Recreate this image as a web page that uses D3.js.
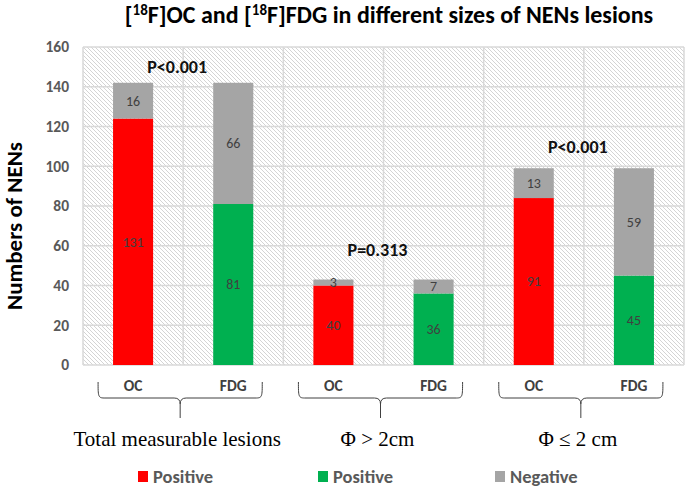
<!DOCTYPE html>
<html>
<head>
<meta charset="utf-8">
<script src="https://cdn.jsdelivr.net/npm/d3@7/dist/d3.min.js"></script>
<style>
  body { margin: 0; background: #fff; }
  svg { display: block; }
</style>
</head>
<body>
<div id="chart"></div>
<script>
// categories
const groups = ["Total measurable lesions", "\u03A6 > 2cm", "\u03A6 \u2264 2 cm"];
const tracers = ["OC", "FDG"];
// bar heights as drawn
const positive = [124, 81, 40, 36, 84, 45];
const negative = [18, 61, 3, 7, 15, 54];
// numbers printed in the bars
const positiveLabels = ["131", "81", "40", "36", "91", "45"];
const negativeLabels = ["16", "66", "3", "7", "13", "59"];
// p values per group, and the height they sit at (data units)
const pLabels = ["P<0.001", "P=0.313", "P<0.001"];
const pLevel = [150, 58, 110];
const yTicks = [0, 20, 40, 60, 80, 100, 120, 140, 160];
const legendLabels = ["Positive", "Positive", "Negative"];

const W = 685, H = 487;
const margin = { top: 47, right: 1, bottom: 122, left: 83 };
const red = "#FF0000", green = "#00B050", grey = "#A5A5A5";
const sans = "Carlito, Calibri, 'Open Sans', sans-serif";

const svg = d3.select("#chart").append("svg")
  .attr("width", W).attr("height", H)
  .style("font-family", sans);

// hatched plot background
const pat = svg.append("defs").append("pattern")
  .attr("id", "hatch")
  .attr("patternUnits", "userSpaceOnUse")
  .attr("width", 4).attr("height", 4);
pat.append("rect").attr("width", 4).attr("height", 4).attr("fill", "#fff");
pat.append("path")
  .attr("d", "M-1,-1 L5,5 M-1,3 L1,5 M3,-1 L5,1")
  .attr("stroke", "#d4d4d4").attr("stroke-width", 1);

const bars = d3.range(positive.length);
const x = d3.scaleBand().domain(bars)
  .range([margin.left, W - margin.right])
  .paddingInner(0.6).paddingOuter(0.3);
const y = d3.scaleLinear().domain([0, 160]).range([H - margin.bottom, margin.top]);

const x0 = x.range()[0], step = x.step();

svg.append("rect")
  .attr("x", x0).attr("y", y(160))
  .attr("width", step * bars.length).attr("height", y(0) - y(160))
  .attr("fill", "url(#hatch)");

// gridlines
svg.append("g").selectAll("line").data(yTicks).join("line")
  .attr("x1", x0).attr("x2", x0 + step * bars.length)
  .attr("y1", d => y(d)).attr("y2", d => y(d))
  .attr("stroke", "#d9d9d9").attr("stroke-width", 1.5);
svg.append("g").selectAll("line").data(d3.range(bars.length + 1)).join("line")
  .attr("x1", i => x0 + i * step).attr("x2", i => x0 + i * step)
  .attr("y1", y(0)).attr("y2", y(160))
  .attr("stroke", "#d9d9d9").attr("stroke-width", 1.5);

// y axis labels
const yAxis = svg.append("g")
  .attr("transform", "translate(" + (margin.left - 14) + ",0)")
  .call(d3.axisLeft(y).tickValues(yTicks).tickSize(0).tickPadding(0));
yAxis.select(".domain").remove();
yAxis.selectAll("text")
  .attr("font-family", sans).attr("font-size", 15.5).attr("font-weight", "bold")
  .attr("fill", "#595959");

// stacked bars
const posColor = i => (i % 2 === 0 ? red : green);
svg.append("g").selectAll("rect").data(bars).join("rect")
  .attr("x", i => x(i)).attr("width", x.bandwidth())
  .attr("y", i => y(positive[i])).attr("height", i => y(0) - y(positive[i]))
  .attr("fill", posColor);
svg.append("g").selectAll("rect").data(bars).join("rect")
  .attr("x", i => x(i)).attr("width", x.bandwidth())
  .attr("y", i => y(positive[i] + negative[i]))
  .attr("height", i => y(positive[i]) - y(positive[i] + negative[i]))
  .attr("fill", grey);

// data labels
const lab = svg.append("g")
  .attr("font-size", 14).attr("fill", "#404040").attr("text-anchor", "middle");
lab.selectAll("text.pos").data(bars).join("text").attr("class", "pos")
  .attr("x", i => x(i) + x.bandwidth() / 2)
  .attr("y", i => y(positive[i] / 2)).attr("dy", "0.35em")
  .text(i => positiveLabels[i]);
lab.selectAll("text.neg").data(bars).join("text").attr("class", "neg")
  .attr("x", i => x(i) + x.bandwidth() / 2)
  .attr("y", i => y(positive[i] + negative[i] / 2)).attr("dy", "0.35em")
  .text(i => negativeLabels[i]);

// p values
const groupMid = g => x(g * 2 + 1) - (x.step() - x.bandwidth()) / 2;
svg.append("g").selectAll("text").data(groups).join("text")
  .attr("x", (d, g) => groupMid(g) - 6)
  .attr("y", (d, g) => y(pLevel[g])).attr("dy", "0.35em")
  .attr("text-anchor", "middle")
  .attr("font-size", 18).attr("font-weight", "bold").attr("fill", "#111")
  .text((d, g) => pLabels[g]);

// tracer labels under each bar
svg.append("g").selectAll("text").data(bars).join("text")
  .attr("x", i => x(i) + x.bandwidth() / 2)
  .attr("y", y(0) + 26)
  .attr("text-anchor", "middle")
  .attr("font-size", 15.5).attr("font-weight", "bold").attr("fill", "#404040")
  .text(i => tracers[i % 2]);

// curly braces + group names
const braceTop = y(0) + 17, braceLine = y(0) + 33, braceTip = y(0) + 53;
const brace = svg.append("g");
groups.forEach((name, g) => {
  const L = x(g * 2) + x.bandwidth() / 2 - 35;
  const R = x(g * 2 + 1) + x.bandwidth() / 2 + 29;
  const M = (L + R) / 2;
  brace.append("path")
    .attr("d",
      "M" + L + "," + braceTop +
      " C" + L + "," + (braceLine - 2) + " " + L + "," + braceLine + " " + (L + 6) + "," + braceLine +
      " L" + (M - 6) + "," + braceLine +
      " Q" + M + "," + braceLine + " " + M + "," + (braceLine + 6) +
      " L" + M + "," + braceTip +
      " M" + M + "," + (braceLine + 6) +
      " Q" + M + "," + braceLine + " " + (M + 6) + "," + braceLine +
      " L" + (R - 6) + "," + braceLine +
      " C" + R + "," + braceLine + " " + R + "," + (braceLine - 2) + " " + R + "," + braceTop)
    .attr("fill", "none").attr("stroke", "#404040").attr("stroke-width", 1);
  brace.append("text")
    .attr("x", M - 3).attr("y", y(0) + 81)
    .attr("text-anchor", "middle")
    .attr("font-family", "'Liberation Serif', 'Times New Roman', serif")
    .attr("font-size", 21).attr("fill", "#000")
    .text(name);
});

// legend
const legendColors = [red, green, grey];
const legendX = [138, 318, 495];
const leg = svg.append("g").selectAll("g").data(legendLabels).join("g")
  .attr("transform", (d, i) => "translate(" + legendX[i] + "," + (H - 16) + ")");
leg.append("rect").attr("width", 10).attr("height", 11)
  .attr("fill", (d, i) => legendColors[i]);
leg.append("text").attr("x", 15).attr("y", 12)
  .attr("font-size", 18.5).attr("font-weight", "bold").attr("fill", "#595959")
  .text(d => d);

// axis title
svg.append("text")
  .attr("transform", "translate(22," + 226 + ") rotate(-90)")
  .attr("text-anchor", "middle")
  .attr("font-size", 23).attr("font-weight", "bold").attr("fill", "#000")
  .text("Numbers of NENs");

// chart title with superscripts
const title = svg.append("text")
  .attr("x", 389).attr("y", 23)
  .attr("text-anchor", "middle")
  .attr("font-size", 24).attr("font-weight", "bold").attr("fill", "#000");
[["[", 0], ["18", 1], ["F]OC and [", 0], ["18", 1], ["F]FDG in different sizes of NENs lesions", 0]]
  .forEach(([t, sup], k, arr) => {
    const prevSup = k > 0 && arr[k - 1][1];
    title.append("tspan")
      .attr("font-size", sup ? 15 : 24)
      .attr("dy", sup ? -8 : (prevSup ? 8 : 0))
      .text(t);
  });
</script>
</body>
</html>
